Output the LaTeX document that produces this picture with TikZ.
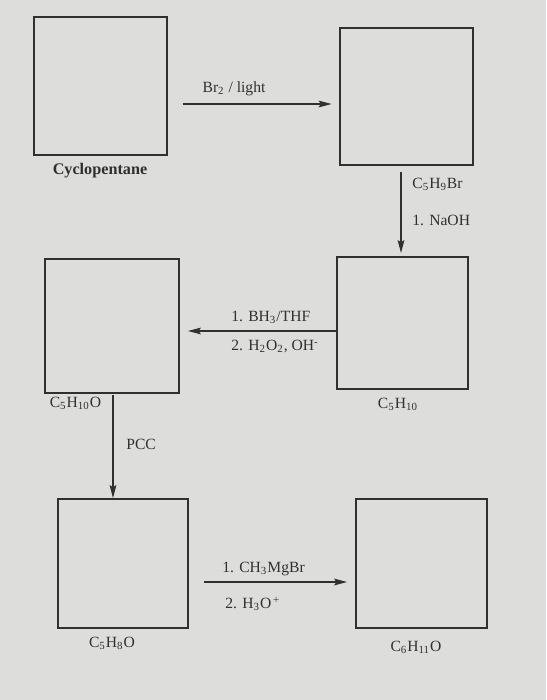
\documentclass[tikz,border=0pt]{standalone}
\usepackage{fontspec}
\setmainfont{Liberation Serif}
\usetikzlibrary{arrows.meta}
\definecolor{paper}{RGB}{221,222,220}
\definecolor{ink}{RGB}{48,48,48}
\tikzset{
  mol/.style={draw=ink, line width=0.6pt, inner sep=0pt},
  lbl/.style={text=ink, font=\fontsize{7.8}{9}\selectfont, inner sep=0pt},
  rxn/.style={draw=ink, line width=0.55pt, -{Stealth[length=6.5pt,width=3.4pt,inset=1.2pt]}}
}
\begin{document}
\begin{tikzpicture}[x=0.5pt,y=-0.5pt]
\fill[paper] (0,0) rectangle (546,700);
\useasboundingbox (0,0) rectangle (546,700);
% boxes
\node[mol, minimum width=66.5pt, minimum height=69pt] (cpent) at (100.5,86) {};
\node[mol, minimum width=66.5pt, minimum height=68.5pt] (brom) at (406.5,96.5) {};
\node[mol, minimum width=65.5pt, minimum height=66pt] (alkene) at (402.5,323) {};
\node[mol, minimum width=67pt, minimum height=67pt] (alcohol) at (112,326) {};
\node[mol, minimum width=65pt, minimum height=64.5pt] (ketone) at (123,563.5) {};
\node[mol, minimum width=65.5pt, minimum height=64.5pt] (tert) at (421.5,563.5) {};
% formulas under the boxes
\node[lbl, font=\fontsize{8.1}{9}\selectfont\bfseries] (cpent-l) at (100,171) {Cyclopentane};
\node[lbl, anchor=west] (brom-l) at (412,184) {C\textsubscript{5}H\textsubscript{9}Br};
\node[lbl] (alkene-l) at (398,404) {C\textsubscript{5}H\textsubscript{10}};
\node[lbl] (alcohol-l) at (75.5,403) {C\textsubscript{5}H\textsubscript{10}O};
\node[lbl] (ketone-l) at (112,643) {C\textsubscript{5}H\textsubscript{8}O};
\node[lbl] (tert-l) at (416,647) {C\textsubscript{6}H\textsubscript{11}O};
% reagents
\node[lbl] (r1) at (234,89) {Br\textsubscript{2} / light};
\node[lbl, anchor=west] (r2) at (412,220) {1. NaOH};
\node[lbl, anchor=west] (r3a) at (231,317) {1. BH\textsubscript{3}/THF};
\node[lbl, anchor=west] (r3b) at (231,347) {2. H\textsubscript{2}O\textsubscript{2}, OH\textsuperscript{-}};
\node[lbl, anchor=west] (r4) at (126,444) {PCC};
\node[lbl, anchor=west] (r5a) at (222,569) {1. CH\textsubscript{3}MgBr};
\node[lbl, anchor=west] (r5b) at (225,604) {2. H\textsubscript{3}O\textsuperscript{\,+}};
% arrow ends
\coordinate (s1) at (182.5,104);
\coordinate (e1) at (331.5,104);
\coordinate (s2) at (401,172);
\coordinate (e2) at (401,253);
\coordinate (s3) at (alkene.west |- 0,331);
\coordinate (e3) at (188,331);
\coordinate (s4) at (113,395);
\coordinate (e4) at (113,498);
\coordinate (s5) at (204,582);
\coordinate (e5) at (347,582);
\foreach \a/\b in {s1/e1,s2/e2,s3/e3,s4/e4,s5/e5}
  \draw[rxn] (\a) -- (\b);
\end{tikzpicture}
\end{document}
